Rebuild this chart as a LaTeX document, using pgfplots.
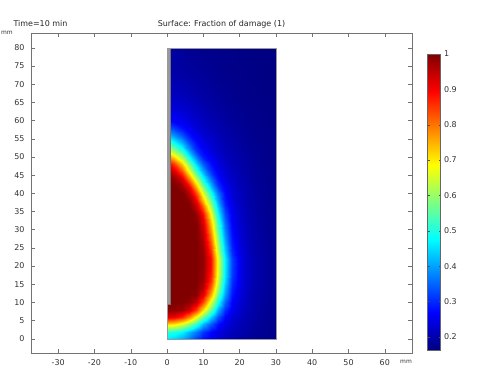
\documentclass[border=0pt]{standalone}
\usepackage{pgfplots}
\pgfplotsset{compat=1.18}
\usepackage{fontspec}
\setmainfont{DejaVu Sans}
\begin{document}
\begin{tikzpicture}[x=1bp,y=1bp]
\useasboundingbox (0,0) rectangle (498,378);
\begin{axis}[
  at={(31bp,25bp)}, anchor=south west,
  scale only axis, width=381bp, height=320bp,
  xmin=-37.5, xmax=67.5, ymin=-3.9, ymax=84.1,
  xtick={-30,-20,-10,0,10,20,30,40,50,60},
  ytick={0,5,10,15,20,25,30,35,40,45,50,55,60,65,70,75,80},
  tick align=inside, major tick length=4bp,
  axis line style={draw=black!55},
  tick style={draw=black!55, line width=0.5pt},
  ticklabel style={font=\fontsize{8}{9}\selectfont, text=black!80},
  xticklabel style={yshift=-3bp},
  yticklabel style={xshift=-3bp},
  /pgf/number format/assume math mode=true,
  colormap/jet, point meta min=0.163, point meta max=1,
  colorbar,
  colorbar style={
    scale only axis, width=13bp, height=296bp,
    at={(parent axis.south east)}, anchor=south west, xshift=7bp, yshift=3bp,
    ytick={0.2,0.3,0.4,0.5,0.6,0.7,0.8,0.9,1},
    yticklabel style={font=\fontsize{8}{9}\selectfont, text=black!80, xshift=0bp},
    tick align=inside, major tick length=2bp,
    tick style={draw=black!70, line width=0.4pt},
    axis line style={draw=black!60},
    /pgf/number format/assume math mode=true,
  },
]
\addplot[surf, shader=interp, mesh/cols=16, point meta=explicit]
 table[row sep=\\, x index=0, y index=1, meta index=2] {
x y v\\
0 0 0.46\\2 0 0.44\\4 0 0.41\\6 0 0.37\\8 0 0.32\\10 0 0.28\\12 0 0.255\\14 0 0.235\\16 0 0.215\\18 0 0.205\\20 0 0.195\\22 0 0.188\\24 0 0.182\\26 0 0.177\\28 0 0.174\\30 0 0.171\\
0 2 0.51\\2 2 0.50\\4 2 0.47\\6 2 0.42\\8 2 0.37\\10 2 0.31\\12 2 0.27\\14 2 0.244\\16 2 0.226\\18 2 0.211\\20 2 0.20\\22 2 0.193\\24 2 0.185\\26 2 0.179\\28 2 0.175\\30 2 0.172\\
0 4 0.72\\2 4 0.707\\4 4 0.663\\6 4 0.598\\8 4 0.514\\10 4 0.42\\12 4 0.339\\14 4 0.278\\16 4 0.243\\18 4 0.223\\20 4 0.208\\22 4 0.198\\24 4 0.189\\26 4 0.182\\28 4 0.176\\30 4 0.173\\
0 6 0.92\\2 6 0.906\\4 6 0.867\\6 6 0.79\\8 6 0.684\\10 6 0.56\\12 6 0.438\\14 6 0.337\\16 6 0.268\\18 6 0.236\\20 6 0.215\\22 6 0.202\\24 6 0.193\\26 6 0.184\\28 6 0.178\\30 6 0.174\\
0 8 0.99\\2 8 0.99\\4 8 0.975\\6 8 0.937\\8 8 0.85\\10 8 0.713\\12 8 0.553\\14 8 0.41\\16 8 0.305\\18 8 0.252\\20 8 0.225\\22 8 0.207\\24 8 0.196\\26 8 0.186\\28 8 0.179\\30 8 0.174\\
0 10 1\\2 10 1\\4 10 1\\6 10 0.99\\8 10 0.95\\10 10 0.838\\12 10 0.657\\14 10 0.488\\16 10 0.35\\18 10 0.265\\20 10 0.232\\22 10 0.211\\24 10 0.198\\26 10 0.189\\28 10 0.181\\30 10 0.175\\
0 12 1\\2 12 1\\4 12 1\\6 12 1\\8 12 0.99\\10 12 0.92\\12 12 0.75\\14 12 0.555\\16 12 0.395\\18 12 0.283\\20 12 0.238\\22 12 0.214\\24 12 0.2\\26 12 0.19\\28 12 0.182\\30 12 0.175\\
0 14 1\\2 14 1\\4 14 1\\6 14 1\\8 14 1\\10 14 0.955\\12 14 0.81\\14 14 0.605\\16 14 0.42\\18 14 0.296\\20 14 0.245\\22 14 0.218\\24 14 0.201\\26 14 0.191\\28 14 0.183\\30 14 0.176\\
0 16 1\\2 16 1\\4 16 1\\6 16 1\\8 16 1\\10 16 0.975\\12 16 0.856\\14 16 0.639\\16 16 0.447\\18 16 0.307\\20 16 0.248\\22 16 0.22\\24 16 0.203\\26 16 0.192\\28 16 0.183\\30 16 0.176\\
0 18 1\\2 18 1\\4 18 1\\6 18 1\\8 18 1\\10 18 0.98\\12 18 0.876\\14 18 0.658\\16 18 0.46\\18 18 0.317\\20 18 0.25\\22 18 0.22\\24 18 0.204\\26 18 0.193\\28 18 0.183\\30 18 0.177\\
0 20 1\\2 20 1\\4 20 1\\6 20 1\\8 20 1\\10 20 0.985\\12 20 0.885\\14 20 0.665\\16 20 0.465\\18 20 0.32\\20 20 0.25\\22 20 0.221\\24 20 0.204\\26 20 0.193\\28 20 0.183\\30 20 0.177\\
0 22 1\\2 22 1\\4 22 1\\6 22 1\\8 22 1\\10 22 0.985\\12 22 0.885\\14 22 0.665\\16 22 0.465\\18 22 0.32\\20 22 0.25\\22 22 0.221\\24 22 0.204\\26 22 0.193\\28 22 0.183\\30 22 0.177\\
0 24 1\\2 24 1\\4 24 1\\6 24 1\\8 24 1\\10 24 0.978\\12 24 0.858\\14 24 0.632\\16 24 0.438\\18 24 0.302\\20 24 0.245\\22 24 0.218\\24 24 0.201\\26 24 0.191\\28 24 0.182\\30 24 0.176\\
0 26 1\\2 26 1\\4 26 1\\6 26 1\\8 26 1\\10 26 0.97\\12 26 0.825\\14 26 0.603\\16 26 0.414\\18 26 0.288\\20 26 0.239\\22 26 0.214\\24 26 0.2\\26 26 0.19\\28 26 0.181\\30 26 0.175\\
0 28 1\\2 28 1\\4 28 1\\6 28 1\\8 28 1\\10 28 0.955\\12 28 0.795\\14 28 0.575\\16 28 0.393\\18 28 0.28\\20 28 0.235\\22 28 0.212\\24 28 0.198\\26 28 0.188\\28 28 0.18\\30 28 0.175\\
0 30 1\\2 30 1\\4 30 1\\6 30 1\\8 30 1\\10 30 0.945\\12 30 0.763\\14 30 0.545\\16 30 0.374\\18 30 0.273\\20 30 0.231\\22 30 0.21\\24 30 0.196\\26 30 0.186\\28 30 0.178\\30 30 0.174\\
0 32 1\\2 32 1\\4 32 1\\6 32 1\\8 32 0.995\\10 32 0.923\\12 32 0.725\\14 32 0.516\\16 32 0.352\\18 32 0.26\\20 32 0.228\\22 32 0.207\\24 32 0.195\\26 32 0.185\\28 32 0.178\\30 32 0.174\\
0 34 1\\2 34 1\\4 34 1\\6 34 1\\8 34 0.99\\10 34 0.89\\12 34 0.683\\14 34 0.48\\16 34 0.331\\18 34 0.258\\20 34 0.224\\22 34 0.206\\24 34 0.194\\26 34 0.184\\28 34 0.178\\30 34 0.174\\
0 36 1\\2 36 1\\4 36 1\\6 36 1\\8 36 0.954\\10 36 0.829\\12 36 0.624\\14 36 0.443\\16 36 0.307\\18 36 0.249\\20 36 0.221\\22 36 0.204\\24 36 0.193\\26 36 0.183\\28 36 0.177\\30 36 0.173\\
0 38 1\\2 38 1\\4 38 1\\6 38 0.99\\8 38 0.913\\10 38 0.744\\12 38 0.564\\14 38 0.399\\16 38 0.285\\18 38 0.24\\20 38 0.216\\22 38 0.201\\24 38 0.191\\26 38 0.182\\28 38 0.176\\30 38 0.173\\
0 40 1\\2 40 1\\4 40 1\\6 40 0.952\\8 40 0.838\\10 40 0.657\\12 40 0.49\\14 40 0.359\\16 40 0.273\\18 40 0.234\\20 40 0.213\\22 40 0.199\\24 40 0.19\\26 40 0.181\\28 40 0.175\\30 40 0.173\\
0 42 1\\2 42 1\\4 42 0.975\\6 42 0.898\\8 42 0.743\\10 42 0.57\\12 42 0.418\\14 42 0.309\\16 42 0.258\\18 42 0.228\\20 42 0.209\\22 42 0.197\\24 42 0.187\\26 42 0.179\\28 42 0.175\\30 42 0.172\\
0 44 1\\2 44 0.985\\4 44 0.928\\6 44 0.796\\8 44 0.64\\10 44 0.488\\12 44 0.36\\14 44 0.279\\16 44 0.242\\18 44 0.221\\20 44 0.206\\22 44 0.195\\24 44 0.185\\26 44 0.179\\28 44 0.174\\30 44 0.172\\
0 46 0.97\\2 46 0.935\\4 46 0.84\\6 46 0.687\\8 46 0.539\\10 46 0.412\\12 46 0.307\\14 46 0.26\\16 46 0.232\\18 46 0.214\\20 46 0.201\\22 46 0.192\\24 46 0.184\\26 46 0.178\\28 46 0.174\\30 46 0.171\\
0 48 0.906\\2 48 0.85\\4 48 0.731\\6 48 0.58\\8 48 0.446\\10 48 0.345\\12 48 0.278\\14 48 0.242\\16 48 0.223\\18 48 0.209\\20 48 0.198\\22 48 0.189\\24 48 0.182\\26 48 0.176\\28 48 0.173\\30 48 0.171\\
0 50 0.79\\2 50 0.718\\4 50 0.613\\6 50 0.48\\8 50 0.37\\10 50 0.288\\12 50 0.257\\14 50 0.232\\16 50 0.214\\18 50 0.203\\20 50 0.195\\22 50 0.187\\24 50 0.18\\26 50 0.175\\28 50 0.173\\30 50 0.17\\
0 52 0.662\\2 52 0.587\\4 52 0.503\\6 52 0.396\\8 52 0.306\\10 52 0.267\\12 52 0.239\\14 52 0.222\\16 52 0.209\\18 52 0.199\\20 52 0.191\\22 52 0.184\\24 52 0.178\\26 52 0.174\\28 52 0.172\\30 52 0.17\\
0 54 0.54\\2 54 0.474\\4 54 0.407\\6 54 0.328\\8 54 0.274\\10 54 0.246\\12 54 0.228\\14 54 0.214\\16 54 0.203\\18 54 0.195\\20 54 0.188\\22 54 0.182\\24 54 0.177\\26 54 0.174\\28 54 0.171\\30 54 0.169\\
0 56 0.43\\2 56 0.384\\4 56 0.334\\6 56 0.282\\8 56 0.253\\10 56 0.232\\12 56 0.218\\14 56 0.208\\16 56 0.198\\18 56 0.191\\20 56 0.184\\22 56 0.179\\24 56 0.175\\26 56 0.173\\28 56 0.171\\30 56 0.169\\
0 58 0.346\\2 58 0.314\\4 58 0.279\\6 58 0.257\\8 58 0.236\\10 58 0.221\\12 58 0.211\\14 58 0.202\\16 58 0.195\\18 58 0.188\\20 58 0.182\\22 58 0.177\\24 58 0.174\\26 58 0.172\\28 58 0.17\\30 58 0.168\\
0 60 0.285\\2 60 0.262\\4 60 0.252\\6 60 0.239\\8 60 0.225\\10 60 0.213\\12 60 0.204\\14 60 0.197\\16 60 0.19\\18 60 0.184\\20 60 0.179\\22 60 0.175\\24 60 0.173\\26 60 0.171\\28 60 0.169\\30 60 0.168\\
0 62 0.263\\2 62 0.25\\4 62 0.238\\6 62 0.227\\8 62 0.215\\10 62 0.207\\12 62 0.199\\14 62 0.193\\16 62 0.186\\18 62 0.182\\20 62 0.177\\22 62 0.174\\24 62 0.172\\26 62 0.17\\28 62 0.169\\30 62 0.167\\
0 64 0.24\\2 64 0.23\\4 64 0.222\\6 64 0.217\\8 64 0.209\\10 64 0.2\\12 64 0.194\\14 64 0.188\\16 64 0.183\\18 64 0.179\\20 64 0.175\\22 64 0.173\\24 64 0.171\\26 64 0.169\\28 64 0.168\\30 64 0.167\\
0 66 0.229\\2 66 0.221\\4 66 0.216\\6 66 0.209\\8 66 0.202\\10 66 0.196\\12 66 0.19\\14 66 0.185\\16 66 0.18\\18 66 0.176\\20 66 0.174\\22 66 0.172\\24 66 0.17\\26 66 0.169\\28 66 0.168\\30 66 0.166\\
0 68 0.217\\2 68 0.212\\4 68 0.207\\6 68 0.203\\8 68 0.197\\10 68 0.191\\12 68 0.186\\14 68 0.182\\16 68 0.178\\18 68 0.175\\20 68 0.172\\22 68 0.171\\24 68 0.17\\26 68 0.168\\28 68 0.167\\30 68 0.166\\
0 70 0.21\\2 70 0.206\\4 70 0.202\\6 70 0.197\\8 70 0.192\\10 70 0.187\\12 70 0.183\\14 70 0.179\\16 70 0.175\\18 70 0.173\\20 70 0.172\\22 70 0.17\\24 70 0.169\\26 70 0.168\\28 70 0.166\\30 70 0.165\\
0 72 0.203\\2 72 0.199\\4 72 0.195\\6 72 0.191\\8 72 0.188\\10 72 0.184\\12 72 0.18\\14 72 0.176\\16 72 0.174\\18 72 0.172\\20 72 0.171\\22 72 0.169\\24 72 0.168\\26 72 0.167\\28 72 0.166\\30 72 0.165\\
0 74 0.2\\2 74 0.194\\4 74 0.191\\6 74 0.188\\8 74 0.185\\10 74 0.181\\12 74 0.177\\14 74 0.174\\16 74 0.173\\18 74 0.171\\20 74 0.17\\22 74 0.169\\24 74 0.168\\26 74 0.166\\28 74 0.165\\30 74 0.165\\
0 76 0.2\\2 76 0.192\\4 76 0.187\\6 76 0.185\\8 76 0.182\\10 76 0.178\\12 76 0.175\\14 76 0.173\\16 76 0.172\\18 76 0.17\\20 76 0.169\\22 76 0.168\\24 76 0.167\\26 76 0.166\\28 76 0.165\\30 76 0.164\\
0 78 0.2\\2 78 0.192\\4 78 0.185\\6 78 0.181\\8 78 0.178\\10 78 0.176\\12 78 0.174\\14 78 0.172\\16 78 0.171\\18 78 0.17\\20 78 0.168\\22 78 0.167\\24 78 0.166\\26 78 0.165\\28 78 0.165\\30 78 0.164\\
0 80 0.2\\2 80 0.192\\4 80 0.185\\6 80 0.18\\8 80 0.177\\10 80 0.174\\12 80 0.173\\14 80 0.171\\16 80 0.17\\18 80 0.169\\20 80 0.168\\22 80 0.167\\24 80 0.166\\26 80 0.165\\28 80 0.164\\30 80 0.163\\
};
\addplot[fill=black!40, draw=black!55, line width=0.3pt] coordinates {(0,9.5) (0.9,9.5) (0.9,80) (0,80)} -- cycle;
\addplot[draw=black!40, line width=0.4pt] coordinates {(0,0) (30,0) (30,80) (0,80) (0,0)};
\end{axis}
\node[font=\fontsize{8}{9}\selectfont, text=black!85, anchor=base] at (221.5,352) {Surface: Fraction of damage (1)};
\node[font=\fontsize{8}{9}\selectfont, text=black!85, anchor=base west] at (10,352) {Time=10 min};
\node[font=\fontsize{6}{7}\selectfont, text=black!80] at (7,345) {mm};
\node[font=\fontsize{6}{7}\selectfont, text=black!80] at (406,16) {mm};
\end{tikzpicture}
\end{document}
